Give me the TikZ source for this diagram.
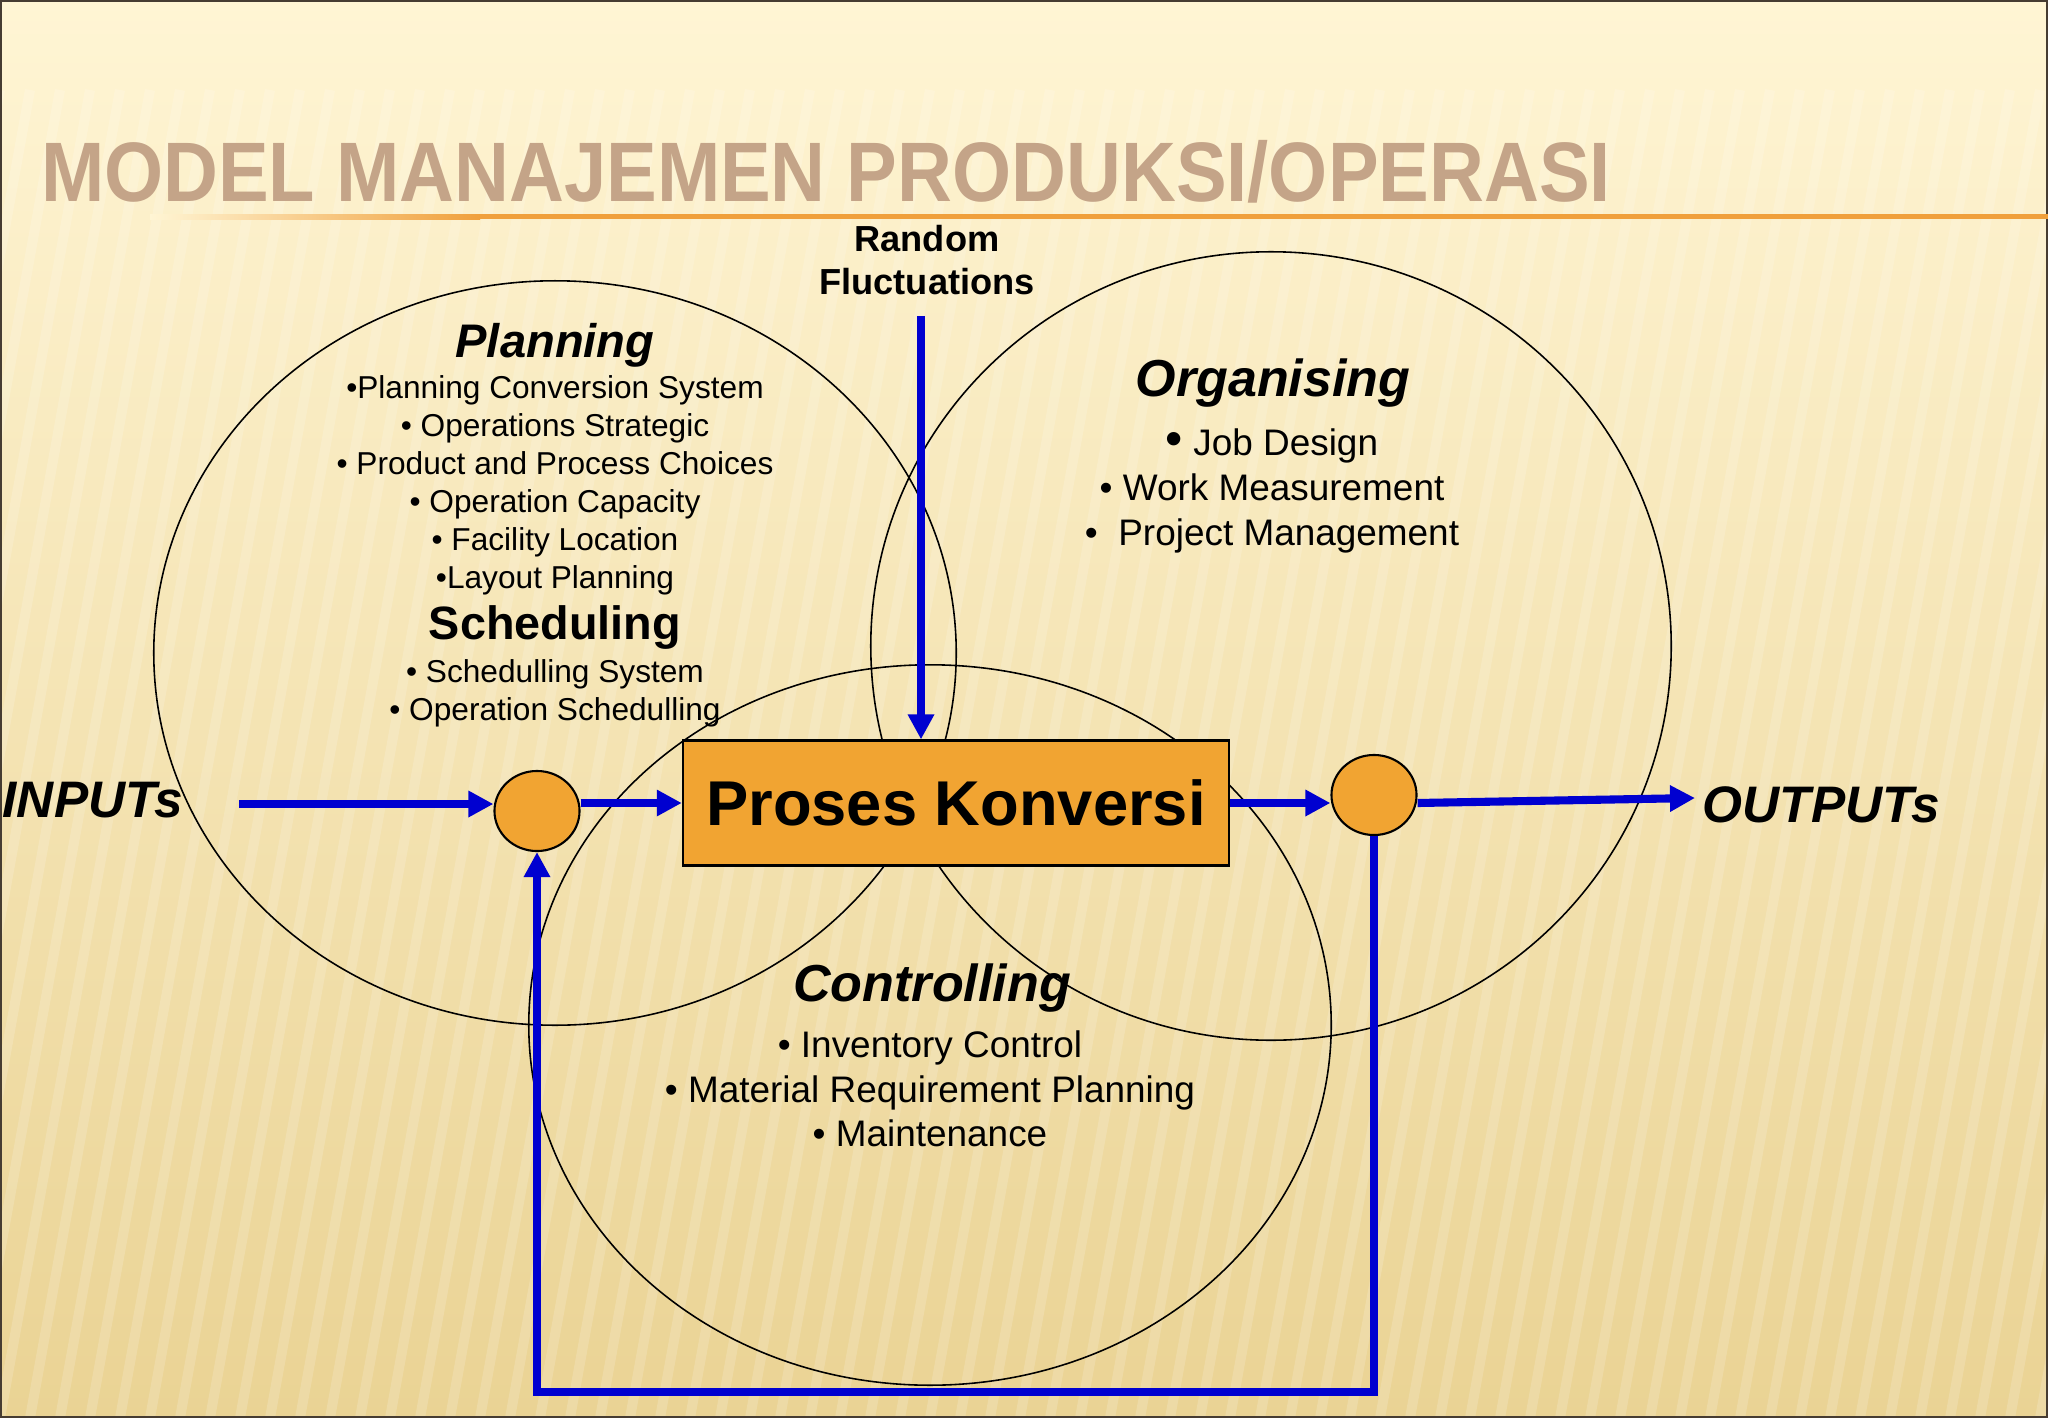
\documentclass[tikz,border=0pt]{standalone}
\usepackage{fontspec}
\setmainfont{Liberation Sans}
\usetikzlibrary{arrows.meta,shapes.geometric,fadings}

\definecolor{flowblue}{RGB}{0,0,208}
\definecolor{boxorange}{RGB}{241,164,50}
\definecolor{bgtop}{RGB}{255,245,212}
\definecolor{bgmid}{RGB}{250,234,184}
\definecolor{bgbot}{RGB}{234,211,148}
\definecolor{titletan}{RGB}{196,164,136}
\definecolor{ruleorange}{RGB}{240,160,60}
\definecolor{framegray}{RGB}{70,60,50}

\begin{document}
\begin{tikzpicture}[x=0.01cm,y=-0.01cm,
  flow/.style={flowblue, line width=2.3pt, -{Triangle[length=0.25cm,width=0.25cm]}},
  ring/.style={black, line width=0.45pt},
  junction/.style={ellipse, draw, line width=0.6pt, fill=boxorange, minimum width=0.85cm, minimum height=0.8cm, inner sep=0pt},
  procbox/.style={draw, line width=0.6pt, fill=boxorange, minimum width=5.46cm, minimum height=1.25cm, inner sep=0pt},
  head/.style={font=\fontsize{14.8}{17.8}\selectfont\bfseries\itshape},
  items/.style={align=center, font=\fontsize{10.5}{12.7}\selectfont}]
\useasboundingbox (0,0) rectangle (2048,1418);
% background
\shade[top color=bgtop, middle color=bgmid, bottom color=bgbot] (0,0) rectangle (2048,1418);
\begin{scope}[scope fading=north]
  \foreach \s in {-300,-270,...,2100}
    \draw[white, opacity=0.16, line width=0.1cm] (\s,1418) -- (\s+240,90);
\end{scope}
\draw[framegray, line width=0.04cm] (0,0) rectangle (2048,1418);

% title
\node[font=\fontsize{24}{28}\selectfont\bfseries, text=titletan, inner sep=0pt] (title) at (826,172)
  {\scalebox{0.9}[1]{MODEL MANAJEMEN PRODUKSI/OPERASI}};
\shade[left color=bgtop, right color=ruleorange] (150,214) rectangle (480,219);
\fill[ruleorange] (480,214) rectangle (2048,219);

% the three functions
\draw[ring] (555,653) ellipse [x radius=4.01cm, y radius=3.72cm];
\draw[ring] (1271,646) ellipse [x radius=4.0cm, y radius=3.94cm];
\draw[ring] (930,1025) ellipse [x radius=4.01cm, y radius=3.6cm];

\node[font=\fontsize{13.4}{16}\selectfont\bfseries\itshape] (plan) at (555,345) {Planning};
\node[align=center, font=\fontsize{9}{10.8}\selectfont] (planItems) at (555,485)
  {•Planning Conversion System\\ • Operations Strategic\\ • Product and Process Choices\\
   • Operation Capacity\\ • Facility Location\\ •Layout Planning};
\node[font=\fontsize{13.3}{16}\selectfont\bfseries] (sched) at (555,628) {Scheduling};
\node[align=center, font=\fontsize{9}{10.8}\selectfont] (schedItems) at (555,693)
  {• Schedulling System\\ • Operation Schedulling};

\node[head] (org) at (1273,383) {Organising};
\node[items] (orgItems) at (1272,491)
  {{\fontsize{14}{14}\selectfont•} Job Design\\ • Work Measurement\\ •~ Project Management};

\node[head] (ctrl) at (932,988) {Controlling};
\node[items] (ctrlItems) at (930,1089)
  {• Inventory Control\\ • Material Requirement Planning\\ • Maintenance};

\node[align=center, font=\fontsize{10.3}{12.3}\selectfont\bfseries] (rnd) at (927,260) {Random\\ Fluctuations};

% conversion chain
\node[procbox, font=\fontsize{18}{21}\selectfont\bfseries] (box) at (956,803) {Proses Konversi};
\node[junction] (jn1) at (537,811) {};
\node[junction] (jn2) at (1374,795) {};
\node[anchor=west, inner sep=0pt, font=\fontsize{14.6}{17}\selectfont\bfseries\itshape] (inp) at (2,800) {INPUTs};
\node[anchor=west, inner sep=0pt, font=\fontsize{14.6}{17}\selectfont\bfseries\itshape] (outp) at (1702,805) {OUTPUTs};

\coordinate (inStart) at (239,804);
\coordinate (outTip) at (1695,798);
\coordinate (rndStart) at (921,316);
\coordinate (fbCorner) at (537,1392);
\draw[flow] (inStart) -- (inStart -| jn1.west);
\draw[flow] (box.west -| jn1.east) -- (box.west);
\draw[flow] (box.east) -- (box.east -| jn2.west);
\draw[flow] (box.east -| jn2.east) -- (outTip);
\draw[flow] (rndStart) -- (rndStart |- box.north);
\draw[flow] (jn2.south) |- (fbCorner) -- (jn1.south);
\end{tikzpicture}
\end{document}
